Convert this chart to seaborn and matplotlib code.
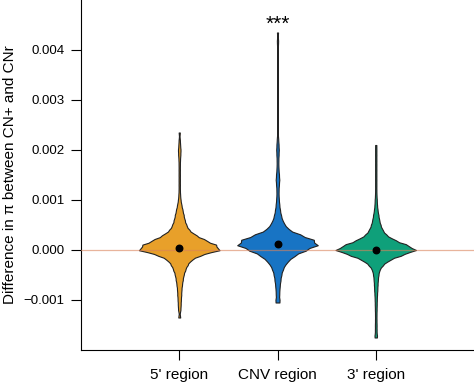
import numpy as np
import pandas as pd
import matplotlib
matplotlib.use("Agg")
import matplotlib.pyplot as plt
import seaborn as sns

# Categories and colours
regions = ["5' region", "CNV region", "3' region"]
colors = ["#E8A02A", "#1874C4", "#0FA07A"]

# Violin profiles: difference in pi at each level
# and the relative density (half-width) of the violin there
diff_5p = [-0.00135, -0.0012, -0.0011, -0.0010, -0.0009, -0.0008, -0.0007, -0.0006,
           -0.0005, -0.0004, -0.0003, -0.0002, -0.0001, 0.0, 0.0001, 0.0002, 0.0003,
           0.0004, 0.0005, 0.0006, 0.0007, 0.0008, 0.0009, 0.0010, 0.0011, 0.0012,
           0.0013, 0.0014, 0.0015, 0.0016, 0.0017, 0.0018, 0.0019, 0.0020, 0.0021,
           0.0022, 0.00235]
dens_5p = [1.0, 1.1, 1.3, 1.5, 1.8, 2.0, 2.5, 3.2,
           4.0, 5.5, 7.5, 11, 20, 38, 34, 24, 15,
           9, 6.5, 5, 4, 3, 2, 1.2, 0.8, 0.6,
           0.6, 0.6, 0.6, 0.6, 0.6, 0.7, 1.0, 1.2, 0.8,
           0.6, 0.6]

diff_cnv = [-0.00105, -0.0010, -0.0009, -0.0008, -0.0007, -0.0006, -0.0005, -0.0004,
            -0.0003, -0.0002, -0.0001, 0.0, 0.0001, 0.0002, 0.0003, 0.0004, 0.0005,
            0.0006, 0.0007, 0.0008, 0.0009, 0.0010, 0.0011, 0.0012, 0.0013, 0.0014,
            0.0015, 0.0016, 0.0017, 0.0018, 0.0019, 0.0020, 0.0021, 0.0022, 0.0023,
            0.0025, 0.0027, 0.0029, 0.0031, 0.0033, 0.0035, 0.0037, 0.0039, 0.0041,
            0.0042, 0.00435]
dens_cnv = [1.3, 1.4, 1.6, 1.8, 2.2, 2.8, 3.5, 4.8,
            7, 11, 17, 27, 38, 34, 22, 11, 7,
            4.5, 3.2, 2.3, 1.7, 1.3, 1.0, 1.0, 1.3, 1.7,
            1.4, 1.0, 0.8, 0.8, 1.0, 1.2, 1.0, 0.7, 0.4,
            0.4, 0.4, 0.4, 0.4, 0.4, 0.4, 0.4, 0.4, 0.5,
            0.6, 0.6]

diff_3p = [-0.00175, -0.0017, -0.0016, -0.0015, -0.0014, -0.0013, -0.0012, -0.0011,
           -0.0010, -0.0009, -0.0008, -0.0007, -0.0006, -0.0005, -0.0004, -0.0003,
           -0.0002, -0.0001, 0.0, 0.0001, 0.0002, 0.0003, 0.0004, 0.0005, 0.0006,
           0.0007, 0.0008, 0.0009, 0.0010, 0.0011, 0.0012, 0.0013, 0.0014, 0.0015,
           0.0016, 0.0017, 0.0018, 0.0019, 0.0020, 0.0021]
dens_3p = [0.8, 0.8, 0.8, 0.8, 0.7, 0.7, 0.8, 0.9,
           1.0, 1.2, 1.5, 1.7, 2.0, 2.5, 3.5, 6.7,
           13, 25, 39, 30, 18, 10, 6.5, 4.5, 3.3,
           2.5, 1.7, 1.2, 1.0, 0.7, 0.6, 0.6, 0.6, 0.6,
           0.6, 0.6, 0.6, 0.6, 0.6, 0.6]

# Black dots (medians)
medians = [0.00005, 0.00012, 0.00001]

# Build long-form table from the profiles
frames = []
for name, vals, dens in zip(regions, [diff_5p, diff_cnv, diff_3p], [dens_5p, dens_cnv, dens_3p]):
    counts = np.round(np.array(dens) * 20).astype(int)
    frames.append(pd.DataFrame({"region": name, "diff": np.repeat(vals, counts)}))
df = pd.concat(frames, ignore_index=True)

sigma = 0.000045

plt.rcParams["font.family"] = ["Liberation Sans", "DejaVu Sans"]
fig = plt.figure(figsize=(4.74, 3.85), dpi=100)
ax = fig.add_axes([81 / 474, 35 / 385, 1 - 81 / 474, 1 - 35 / 385])

sns.violinplot(data=df, x="region", y="diff", hue="region", palette=colors,
               order=regions, hue_order=regions, legend=False, saturation=1,
               inner=None, cut=0, density_norm="width", width=0.82,
               bw_method=lambda k: sigma / k.dataset.std(), linewidth=0.8,
               linecolor="#222222", ax=ax)

ax.axhline(0, color="#d9825b", alpha=0.6, lw=0.9, zorder=5)
ax.scatter(regions, medians, color="black", s=22, zorder=6)

ax.text(1, 0.00452, "***", ha="center", va="center", fontsize=15)

ax.set_xlim(-1, 3)
ax.set_ylim(-0.002, 0.005)
ax.set_yticks([-0.001, 0.0, 0.001, 0.002, 0.003, 0.004])
ax.set_yticklabels(["\u22120.001", "0.000", "0.001", "0.002", "0.003", "0.004"])
ax.set_xticks([0, 1, 2])
ax.set_xticklabels(regions)
ax.set_xlabel("")
ax.set_ylabel("Difference in \u03c0 between CN+ and CNr", fontsize=11)
ax.yaxis.set_label_coords(-0.163, 0.5)
ax.tick_params(axis="y", labelsize=9.5, length=7, width=0.8, pad=5)
ax.tick_params(axis="x", labelsize=11, length=7, width=0.8, pad=6)
for side in ["top", "right"]:
    ax.spines[side].set_visible(False)
for side in ["left", "bottom"]:
    ax.spines[side].set_linewidth(0.8)

fig.savefig("out.png", dpi=100)
